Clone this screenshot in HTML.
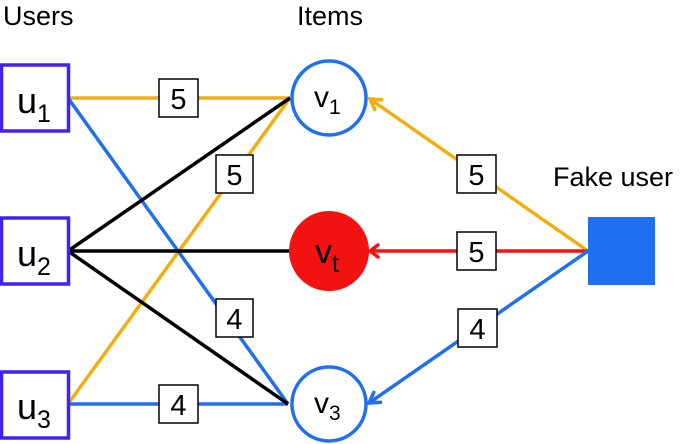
<!DOCTYPE html>
<html><head><style>body{margin:0;background:#fff}svg{display:block}text{font-family:"Liberation Sans",sans-serif}</style></head><body>
<svg width="685" height="444" viewBox="0 0 685 444">
<g stroke-width="3.5" fill="none">
<line x1="68" y1="98" x2="290" y2="98" stroke="#f2ae0e"/>
<line x1="68" y1="404" x2="290" y2="98" stroke="#f2ae0e"/>
<line x1="68" y1="98" x2="288" y2="404" stroke="#1f6ff0"/>
<line x1="68" y1="404" x2="288" y2="404" stroke="#1f6ff0"/>
<line x1="68" y1="251" x2="290" y2="98" stroke="#000"/>
<line x1="68" y1="251" x2="290" y2="251" stroke="#000"/>
<line x1="68" y1="251" x2="288" y2="404" stroke="#000"/>
<line x1="588" y1="251" x2="370" y2="99" stroke="#f2ae0e"/>
<polyline points="381.6,99.8 370,99 374.8,109.6" stroke="#f2ae0e" stroke-linecap="round"/>
<line x1="588" y1="251" x2="370" y2="251" stroke="#f31212"/>
<polyline points="378,245 370,251 378,257" stroke="#f31212" stroke-linecap="round"/>
<line x1="588" y1="251" x2="369" y2="403" stroke="#1f6ff0"/>
<polyline points="380.6,402.2 369,403 373.8,392.4" stroke="#1f6ff0" stroke-linecap="round"/>
</g>
<g fill="#fff" stroke="#4422ee" stroke-width="3.5">
<rect x="1.5" y="65" width="67" height="66"/>
<rect x="1.5" y="218" width="67" height="66"/>
<rect x="1.5" y="372" width="67" height="66"/>
</g>
<circle cx="329" cy="98" r="37" fill="#fff" stroke="#1f6ff0" stroke-width="3.5"/>
<circle cx="329" cy="251" r="40" fill="#f31212"/>
<circle cx="329" cy="404" r="37" fill="#fff" stroke="#1f6ff0" stroke-width="3.5"/>
<rect x="588" y="217" width="67" height="68" fill="#1f6ff0"/>
<g fill="#fff" stroke="#000" stroke-width="1.5">
<rect x="159" y="79" width="39" height="38"/>
<rect x="216" y="155" width="37" height="38"/>
<rect x="216" y="299" width="37" height="38"/>
<rect x="159" y="385" width="39" height="38"/>
<rect x="457" y="155" width="39" height="38"/>
<rect x="457" y="232" width="39" height="38"/>
<rect x="458" y="309" width="39" height="38"/>
</g>
<g font-size="29" text-anchor="middle" fill="#000">
<text x="178.5" y="109">5</text>
<text x="234.5" y="185">5</text>
<text x="234.5" y="329">4</text>
<text x="178.5" y="415">4</text>
<text x="476.5" y="185">5</text>
<text x="476.5" y="262">5</text>
<text x="477.5" y="339">4</text>
</g>
<g font-size="27" fill="#000">
<text x="3" y="25">Users</text>
<text x="297" y="25">Items</text>
<text x="553" y="186">Fake user</text>
<text x="17" y="113" font-size="36">u<tspan font-size="25" dy="9">1</tspan></text>
<text x="17" y="266" font-size="36">u<tspan font-size="25" dy="9">2</tspan></text>
<text x="17" y="419" font-size="36">u<tspan font-size="25" dy="9">3</tspan></text>
<text x="314" y="107" font-size="30">v<tspan font-size="21" dy="7">1</tspan></text>
<text x="315" y="263" font-size="34">v<tspan font-size="25" dy="9">t</tspan></text>
<text x="314" y="413" font-size="30">v<tspan font-size="21" dy="7">3</tspan></text>
</g>
</svg>
</body></html>
